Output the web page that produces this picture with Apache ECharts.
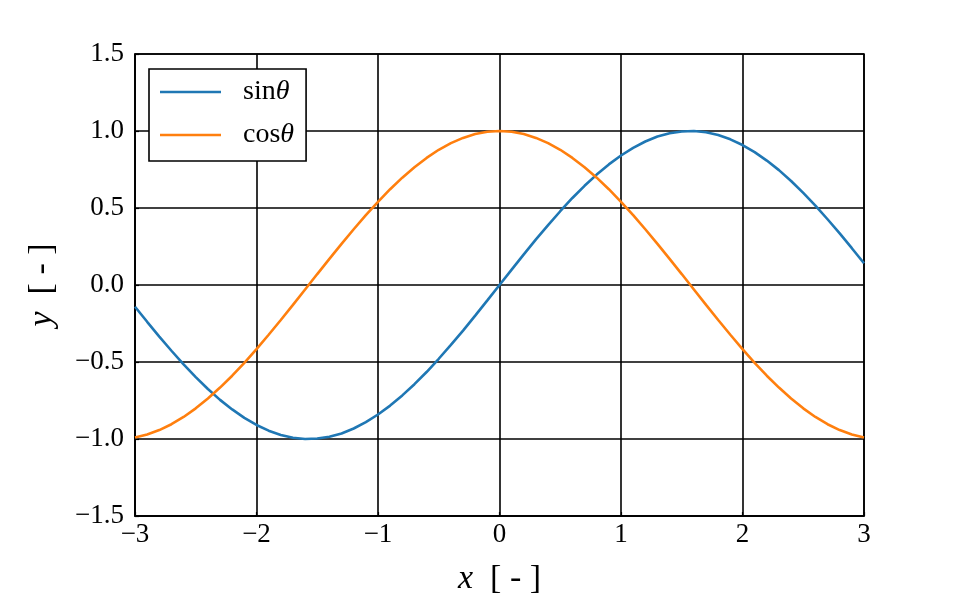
<!DOCTYPE html>
<html><head><meta charset="utf-8">
<script src="https://cdn.jsdelivr.net/npm/echarts@6/dist/echarts.min.js"></script>
<style>html,body{margin:0;padding:0;background:#fff}#c{width:960px;height:600px}</style>
</head><body><div id="c"></div>
<script>
const xValues = [-3.0,-2.9,-2.8,-2.7,-2.6,-2.5,-2.4,-2.3,-2.2,-2.1,-2.0,-1.9,-1.8,-1.7,-1.6,-1.5,-1.4,-1.3,-1.2,-1.1,-1.0,-0.9,-0.8,-0.7,-0.6,-0.5,-0.4,-0.3,-0.2,-0.1,0.0,0.1,0.2,0.3,0.4,0.5,0.6,0.7,0.8,0.9,1.0,1.1,1.2,1.3,1.4,1.5,1.6,1.7,1.8,1.9,2.0,2.1,2.2,2.3,2.4,2.5,2.6,2.7,2.8,2.9,3.0];
const sinValues = [-0.141,-0.239,-0.335,-0.427,-0.516,-0.598,-0.675,-0.746,-0.808,-0.863,-0.909,-0.946,-0.974,-0.992,-1.000,-0.997,-0.985,-0.964,-0.932,-0.891,-0.841,-0.783,-0.717,-0.644,-0.565,-0.479,-0.389,-0.296,-0.199,-0.100,0.000,0.100,0.199,0.296,0.389,0.479,0.565,0.644,0.717,0.783,0.841,0.891,0.932,0.964,0.985,0.997,1.000,0.992,0.974,0.946,0.909,0.863,0.808,0.746,0.675,0.598,0.516,0.427,0.335,0.239,0.141];
const cosValues = [-0.990,-0.971,-0.942,-0.904,-0.857,-0.801,-0.737,-0.666,-0.589,-0.505,-0.416,-0.323,-0.227,-0.129,-0.029,0.071,0.170,0.267,0.362,0.454,0.540,0.622,0.697,0.765,0.825,0.878,0.921,0.955,0.980,0.995,1.000,0.995,0.980,0.955,0.921,0.878,0.825,0.765,0.697,0.622,0.540,0.454,0.362,0.267,0.170,0.071,-0.029,-0.129,-0.227,-0.323,-0.416,-0.505,-0.589,-0.666,-0.737,-0.801,-0.857,-0.904,-0.942,-0.971,-0.990];
const seriesNames = ['sin', 'cos'];
const xTicks = [-3,-2,-1,0,1,2,3];
const yTicks = [-1.5,-1.0,-0.5,0.0,0.5,1.0,1.5];

const FONT = '"Liberation Serif", "DejaVu Serif", serif';
const pair = (xs, ys) => xs.map((x, i) => [x, ys[i]]);
const minus = s => String(s).replace('-', '\u2212');

const chart = echarts.init(document.getElementById('c'));
const axisCommon = {
  axisLine: { show: true, onZero: false, lineStyle: { color: '#000', width: 1.6 } },
  axisTick: { show: true, inside: true, length: 4, lineStyle: { color: '#000', width: 1.2 } },
  splitLine: { show: true, lineStyle: { color: '#000', width: 1.6 } },
  nameLocation: 'middle',
  nameTextStyle: {
    fontFamily: FONT, fontSize: 34, color: '#000',
    rich: {
      i: { fontFamily: FONT, fontStyle: 'italic', fontSize: 34, color: '#000' },
      n: { fontFamily: FONT, fontSize: 34, color: '#000' }
    }
  }
};
chart.setOption({
  animation: false,
  backgroundColor: '#fff',
  grid: { left: 135, right: 96, top: 54, bottom: 84, show: true, borderColor: '#000', borderWidth: 1.6,
          containLabel: false, outerBoundsMode: 'none' },
  xAxis: Object.assign({}, axisCommon, {
    type: 'value', min: xTicks[0], max: xTicks[xTicks.length - 1], interval: 1,
    name: '{i|x}{n|  [ - ]}', nameGap: 46,
    axisLabel: { fontFamily: FONT, fontSize: 27, color: '#000', margin: 5, formatter: v => minus(v) }
  }),
  yAxis: Object.assign({}, axisCommon, {
    type: 'value', min: yTicks[0], max: yTicks[yTicks.length - 1], interval: 0.5,
    name: '{i|y}{n|  [ - ]}', nameGap: 76,
    axisLabel: { fontFamily: FONT, fontSize: 27, color: '#000', margin: 11, formatter: v => minus(v.toFixed(1)) }
  }),
  legend: {
    left: 149, top: 69, orient: 'vertical',
    borderColor: '#000', borderWidth: 1.6, borderRadius: 0,
    backgroundColor: '#fff',
    padding: [9, 12, 12, 11],
    itemWidth: 61, itemHeight: 26, itemGap: 15,
    data: seriesNames.map(n => ({ name: n, icon: 'path://M0,11.7 L61,11.7 L61,14.3 L0,14.3 Z' })),
    formatter: n => '{a|' + n + '}{b|θ}',
    textStyle: {
      padding: [0, 0, 0, 17],
      rich: {
        a: { fontFamily: FONT, fontSize: 28, color: '#000' },
        b: { fontFamily: FONT, fontSize: 28, fontStyle: 'italic', color: '#000' }
      }
    }
  },
  series: [
    { name: seriesNames[0], type: 'line', data: pair(xValues, sinValues), smooth: false, showSymbol: false,
      lineStyle: { color: '#1f77b4', width: 2.6 }, itemStyle: { color: '#1f77b4' }, z: 3 },
    { name: seriesNames[1], type: 'line', data: pair(xValues, cosValues), smooth: false, showSymbol: false,
      lineStyle: { color: '#ff7f0e', width: 2.6 }, itemStyle: { color: '#ff7f0e' }, z: 3 }
  ]
});
</script></body></html>
